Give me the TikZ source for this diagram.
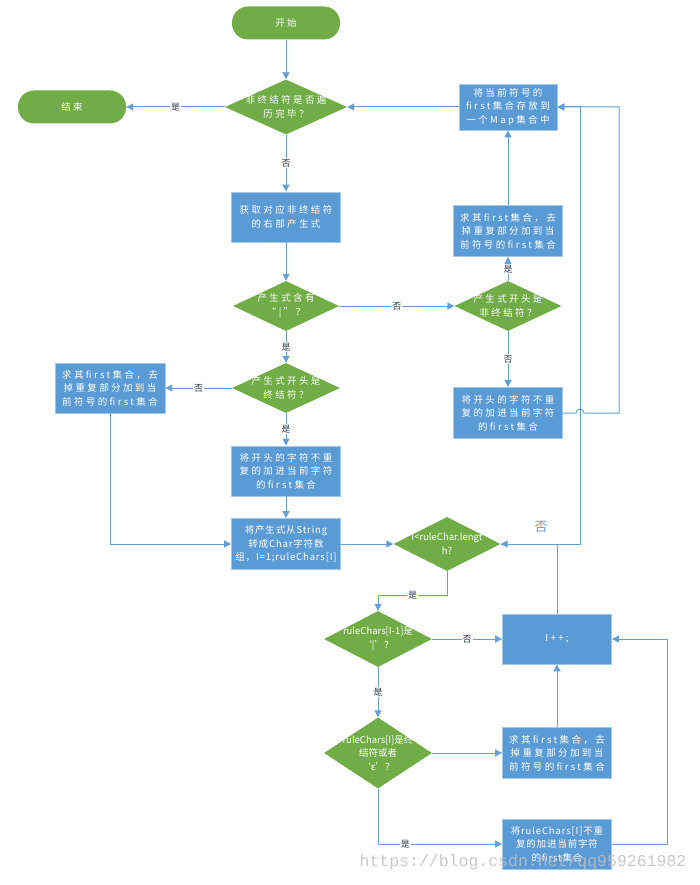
\documentclass[tikz,border=0pt]{standalone}
\usepackage{fontspec}
\newfontfamily\cjk[LetterSpace=25]{Noto Sans CJK SC}
\newfontfamily\cjkmid[LetterSpace=9]{Noto Sans CJK SC}
\newfontfamily\tagfont{Noto Sans CJK SC}
\newfontfamily\wmfont{Liberation Mono}
\usetikzlibrary{shapes.geometric,arrows.meta}
\definecolor{leafgreen}{RGB}{112,173,71}
\definecolor{boxblue}{RGB}{91,155,213}
\definecolor{linkblue}{RGB}{100,160,215}
\definecolor{tagtext}{RGB}{50,60,80}

\tikzset{
  flow/.style={
    every node/.style={font=\cjk\fontsize{9.5}{13.5}\selectfont, text=white, align=center, inner sep=0pt},
    term/.style={rectangle, rounded corners=16pt, fill=leafgreen, minimum width=108pt, minimum height=33pt},
    proc/.style={rectangle, fill=boxblue, draw=boxblue!55!white, line width=0.8pt, minimum width=109pt, minimum height=50pt},
    dec/.style={diamond, fill=leafgreen, minimum width=108pt, minimum height=52pt},
    dectext/.style={text=white, align=center},
    plain/.style={font=\tagfont\fontsize{9.5}{13.5}\selectfont},
    mid/.style={font=\cjkmid\fontsize{9.5}{13.5}\selectfont},
    tag/.style={fill=white, text=tagtext, inner sep=1pt, font=\tagfont\fontsize{9}{10}\selectfont},
    arr/.style={draw=linkblue, line width=1pt, -{Triangle[length=7pt,width=7pt]}},
    link/.style={draw=linkblue, line width=1pt}
  }
}

\begin{document}
\begin{tikzpicture}[flow, x=1pt, y=-1pt]
  \useasboundingbox (0,0) rectangle (699,885);

  % main column
  \node[term] (start) at (286,23) {开始};
  \node[term] (stop) at (72,107) {结束};
  \node[dec, minimum width=122pt, minimum height=55pt,
        label={[dectext]center:{非终结符是否遍\\历完毕？}}] (d1) at (286,107) {};
  \node[proc, minimum width=98pt, minimum height=46pt] (map) at (508,107) {将当前符号的\\first集合存放到\\一个Map集合中};
  \node[proc] (get) at (286,217) {获取对应非终结符\\的右部产生式};
  \node[dec, minimum width=106pt, minimum height=50pt,
        label={[dectext]center:{产生式含有\\“|”？}}] (d2) at (286,306) {};
  \node[dec, minimum width=107pt, minimum height=50pt,
        label={[dectext]center:{产生式开头是\\非终结符？}}] (d3) at (508,306) {};
  \node[proc, minimum height=51pt] (upr) at (508,231) {求其first集合，去\\掉重复部分加到当\\前符号的first集合};
  \node[proc, minimum height=51pt] (rbox) at (508,413) {将开头的字符不重\\复的加进当前字符\\的first集合};
  \node[dec, minimum width=108pt, minimum height=50pt,
        label={[dectext]center:{产生式开头是\\终结符？}}] (d4) at (286,388) {};
  \node[proc, minimum width=110pt] (lbox) at (110,388) {求其first集合，去\\掉重复部分加到当\\前符号的first集合};
  \node[proc] (cbox) at (286,471) {将开头的字符不重\\复的加进当前字符\\的first集合};
  \node[proc, mid, minimum height=51pt] (conv) at (286,544) {将产生式从String\\转成Char字符数\\组，I=1;ruleChars[I]};

  % loop over the characters
  \node[dec, minimum width=107pt, minimum height=54pt,
        label={[dectext, plain]center:{I<ruleChar.lengt\\h?}}] (d5) at (447,544) {};
  \node[proc] (inc) at (557,639) {I++;};
  \node[dec, minimum width=108pt, minimum height=56pt,
        label={[dectext, plain]center:{ruleChars[I-1]是\\‘|’？}}] (d6) at (378,639) {};
  \node[dec, minimum width=108pt, minimum height=71pt,
        label={[dectext, plain]center:{ruleChars[I]是终\\结符或者\\‘ε’？}}] (d7) at (378,753) {};
  \node[proc, minimum height=51pt] (bbox) at (557,753) {求其first集合，去\\掉重复部分加到当\\前符号的first集合};
  \node[proc, mid] (rc) at (557,844) {将ruleChars[I]不重\\复的加进当前字符\\的first集合};
  \node[font=\tagfont\fontsize{13}{13}\selectfont, text=linkblue] (no5) at (541,527) {否};

  % connectors
  \draw[arr] (start) -- (d1);
  \draw[arr] (d1) -- node[tag]{是} (stop);
  \draw[arr] (d1) -- node[tag]{否} (get);
  \draw[arr] (map) -- (d1);
  \draw[arr] (get) -- (d2);
  \draw[arr] (d2) -- node[tag]{否} (d3);
  \draw[arr] (d2) -- node[tag]{是} (d4);
  \draw[arr] (d3) -- node[tag]{是} (upr);
  \draw[arr] (upr) -- (map);
  \draw[arr] (d3) -- node[tag]{否} (rbox);
  \draw[arr] (rbox.east) -- (576,413) arc[start angle=180, end angle=0, radius=4pt] -- (619,413) |- (map.east);
  \draw[arr] (d4) -- node[tag]{否} (lbox);
  \draw[arr] (d4) -- node[tag]{是} (cbox);
  \draw[arr] (cbox) -- (conv);
  \draw[arr] (lbox.south) |- (conv.west);
  \draw[arr] (conv) -- (d5);
  \draw[arr] (d5.east) -- (580,544) -- (580,107) -- (map.east);
  \draw[arr] (inc.north) |- (d5.east);
  \draw[arr] (d5.south) -- ++(0,24) -| node[tag, pos=0.25]{是} (d6.north);
  \draw[arr] (d6) -- node[tag]{否} (inc);
  \draw[arr] (d6) -- node[tag]{是} (d7);
  \draw[arr] (d7) -- (bbox);
  \draw[arr] (bbox) -- (inc);
  \draw[arr] (d7.south) |- node[tag, pos=0.61]{是} (rc.west);
  \draw[arr] (rc.east) -- ++(56,0) |- (inc.east);

  % watermark
  \node[font=\wmfont\fontsize{16.5}{17}\selectfont, text=black!25, opacity=0.85] (mark) at (523,862) {https://blog.csdn.net/qq959261982};
\end{tikzpicture}
\end{document}
